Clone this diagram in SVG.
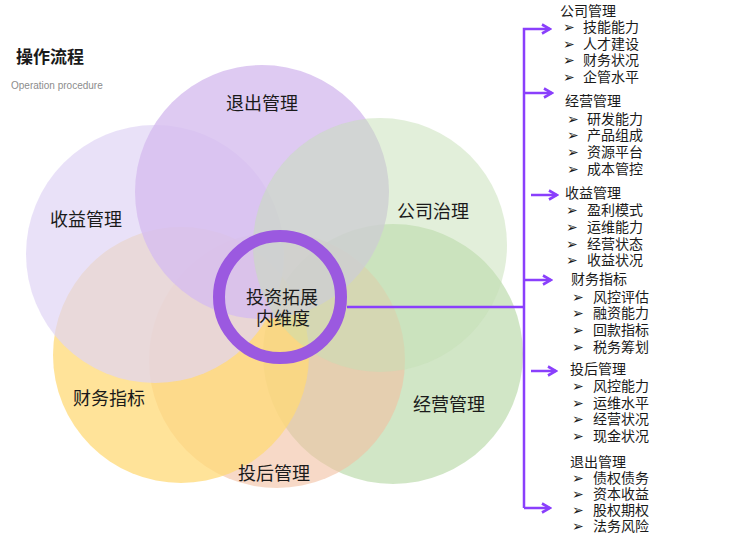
<svg xmlns="http://www.w3.org/2000/svg" width="740" height="534" viewBox="0 0 740 534">
<defs>
<style>
text{font-family:"Liberation Sans","Noto Sans CJK SC",sans-serif;fill:#1a1a1a}
.lbl{font-size:18px;text-anchor:middle}
.hd{font-size:14px}
.it{font-size:14px}
.con{stroke:#8a3ffc;stroke-width:2.5;fill:none}
</style>
<marker id="ah" viewBox="0 0 12 12" refX="10" refY="6" markerWidth="12" markerHeight="12" markerUnits="userSpaceOnUse" orient="auto">
<path d="M2,1.5 L10,6 L2,10.5" fill="none" stroke="#8a3ffc" stroke-width="2.6"/>
</marker>
</defs>
<rect width="740" height="534" fill="#ffffff"/>
<g id="title">
<text x="16" y="63" style="font-size:17px;font-weight:bold">操作流程</text>
<text x="11" y="89" style="font-size:10px;fill:#8c8c8c">Operation procedure</text>
</g>
<g id="circles">
<g id="n-jingying"><circle cx="393" cy="354" r="130" fill="#b2d5a0" fill-opacity="0.6"/></g>
<g id="n-touhou"><circle cx="277" cy="360" r="128" fill="#f2c0a2" fill-opacity="0.6"/></g>
<g id="n-caiwu"><circle cx="181" cy="355" r="128" fill="#ffda77" fill-opacity="0.75"/></g>
<g id="n-shouyi"><circle cx="155" cy="254" r="129" fill="#e0d4f5" fill-opacity="0.7"/></g>
<g id="n-tuichu"><circle cx="262" cy="192" r="127" fill="#d6bdef" fill-opacity="0.8"/></g>
<g id="n-gongsi"><circle cx="380" cy="245" r="127" fill="#c5dfb5" fill-opacity="0.5"/></g>
</g>
<g id="labels">
<text class="lbl" x="262" y="110">退出管理</text>
<text class="lbl" x="86" y="226">收益管理</text>
<text class="lbl" x="433" y="218">公司治理</text>
<text class="lbl" x="109" y="405">财务指标</text>
<text class="lbl" x="449" y="411">经营管理</text>
<text class="lbl" x="274" y="480">投后管理</text>
</g>
<g id="connectors">
<path class="con" d="M347,307 H524"/>
<path class="con" d="M524,508 V29 H550" marker-end="url(#ah)"/>
<path class="con" d="M524,93 H552" marker-end="url(#ah)"/>
<path class="con" d="M531,195 H557" marker-end="url(#ah)"/>
<path class="con" d="M525,280 H551" marker-end="url(#ah)"/>
<path class="con" d="M531,371 H556" marker-end="url(#ah)"/>
<path class="con" d="M524,508 H550" marker-end="url(#ah)"/>
</g>
<g id="center">
<circle cx="280" cy="297" r="61" fill="none" stroke="#9b59e0" stroke-width="12"/>
<text class="lbl" x="282" y="304">投资拓展</text>
<text class="lbl" x="283" y="325">内维度</text>
</g>
<g id="list-gongsi">
<text class="hd" x="560" y="16">公司管理</text>
<text class="it" x="563" y="32">➢</text><text class="it" x="583" y="32">技能能力</text>
<text class="it" x="563" y="49">➢</text><text class="it" x="583" y="49">人才建设</text>
<text class="it" x="563" y="65">➢</text><text class="it" x="583" y="65">财务状况</text>
<text class="it" x="563" y="82">➢</text><text class="it" x="583" y="82">企管水平</text>
</g>
<g id="list-jingying">
<text class="hd" x="565" y="106">经营管理</text>
<text class="it" x="567" y="124">➢</text><text class="it" x="587" y="124">研发能力</text>
<text class="it" x="567" y="140">➢</text><text class="it" x="587" y="140">产品组成</text>
<text class="it" x="567" y="157">➢</text><text class="it" x="587" y="157">资源平台</text>
<text class="it" x="567" y="174">➢</text><text class="it" x="587" y="174">成本管控</text>
</g>
<g id="list-shouyi">
<text class="hd" x="565" y="198">收益管理</text>
<text class="it" x="566" y="215">➢</text><text class="it" x="587" y="215">盈利模式</text>
<text class="it" x="566" y="232">➢</text><text class="it" x="587" y="232">运维能力</text>
<text class="it" x="566" y="249">➢</text><text class="it" x="587" y="249">经营状态</text>
<text class="it" x="566" y="265">➢</text><text class="it" x="587" y="265">收益状况</text>
</g>
<g id="list-caiwu">
<text class="hd" x="571" y="284">财务指标</text>
<text class="it" x="572" y="302">➢</text><text class="it" x="593" y="302">风控评估</text>
<text class="it" x="572" y="318">➢</text><text class="it" x="593" y="318">融资能力</text>
<text class="it" x="572" y="335">➢</text><text class="it" x="593" y="335">回款指标</text>
<text class="it" x="572" y="352">➢</text><text class="it" x="593" y="352">税务筹划</text>
</g>
<g id="list-touhou">
<text class="hd" x="570" y="374">投后管理</text>
<text class="it" x="572" y="391">➢</text><text class="it" x="593" y="391">风控能力</text>
<text class="it" x="572" y="408">➢</text><text class="it" x="593" y="408">运维水平</text>
<text class="it" x="572" y="424">➢</text><text class="it" x="593" y="424">经营状况</text>
<text class="it" x="572" y="441">➢</text><text class="it" x="593" y="441">现金状况</text>
</g>
<g id="list-tuichu">
<text class="hd" x="570" y="467">退出管理</text>
<text class="it" x="572" y="483">➢</text><text class="it" x="593" y="483">债权债务</text>
<text class="it" x="572" y="499">➢</text><text class="it" x="593" y="499">资本收益</text>
<text class="it" x="572" y="515">➢</text><text class="it" x="593" y="515">股权期权</text>
<text class="it" x="572" y="531">➢</text><text class="it" x="593" y="531">法务风险</text>
</g>
</svg>
